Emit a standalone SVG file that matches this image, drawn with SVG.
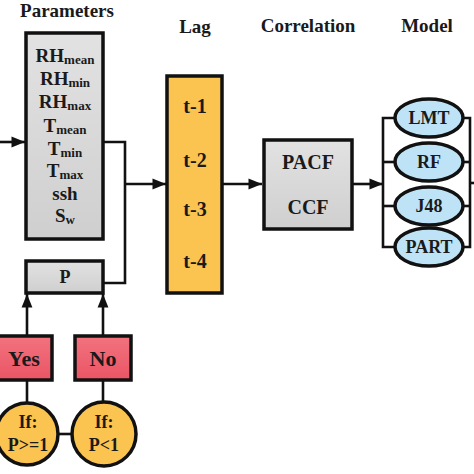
<svg xmlns="http://www.w3.org/2000/svg" width="474" height="474" viewBox="0 0 474 474">
<style>
text{font-family:"Liberation Serif","Times New Roman",serif;font-weight:bold;fill:#1a1a1a;text-anchor:middle}
.title{font-size:19px}
.lbl{font-size:20px}
.plbl{font-size:19px}
.sub{font-size:13px}
.box{stroke:#111;stroke-width:3.5}
.gray{fill:url(#gGray)}
.orange{fill:#fbc350}
.red{fill:url(#gRed)}
.blue{fill:#bfe3f6}
.ln{fill:none;stroke:#111;stroke-width:2.6}
</style>
<defs>
<linearGradient id="gGray" x1="0" y1="0" x2="0" y2="1"><stop offset="0" stop-color="#e2e2e2"/><stop offset="1" stop-color="#cfcfcf"/></linearGradient>
<linearGradient id="gRed" x1="0" y1="0" x2="0" y2="1"><stop offset="0" stop-color="#f2727e"/><stop offset="1" stop-color="#ea5565"/></linearGradient>
<marker id="ah" viewBox="0 0 10 10" refX="10" refY="5" markerWidth="5.2" markerHeight="5.2" orient="auto" markerUnits="strokeWidth"><path d="M0,1 L10,5 L0,9 z" fill="#111"/></marker>
</defs>

<g id="titles">
<text class="title" x="67" y="17">Parameters</text>
<text class="title" x="195" y="33">Lag</text>
<text class="title" x="308" y="32">Correlation</text>
<text class="title" x="427" y="32">Model</text>
</g>

<g id="connectors">
<line class="ln" x1="0" y1="142" x2="25" y2="142" marker-end="url(#ah)"/>
<polyline class="ln" points="103,142 125,142 125,283 103,283"/>
<line class="ln" x1="125" y1="184" x2="166" y2="184" marker-end="url(#ah)"/>
<line class="ln" x1="222" y1="184" x2="262" y2="184" marker-end="url(#ah)"/>
<line class="ln" x1="352" y1="184" x2="383" y2="184" marker-end="url(#ah)"/>
<polyline class="ln" points="395,118 383,118 383,247 395,247"/>
<line class="ln" x1="383" y1="162" x2="395" y2="162"/>
<line class="ln" x1="383" y1="206" x2="395" y2="206"/>
<polyline class="ln" points="462,118 470,118 470,247 462,247"/>
<line class="ln" x1="462" y1="162" x2="470" y2="162"/>
<line class="ln" x1="462" y1="206" x2="470" y2="206"/>
<line class="ln" x1="470" y1="183" x2="474" y2="183"/>
<line class="ln" x1="27" y1="336" x2="27" y2="294" marker-end="url(#ah)"/>
<line class="ln" x1="103" y1="336" x2="103" y2="294" marker-end="url(#ah)"/>
<line class="ln" x1="27" y1="380" x2="27" y2="403"/>
<line class="ln" x1="103" y1="380" x2="103" y2="403"/>
<line class="ln" x1="58" y1="434" x2="72" y2="434"/>
</g>

<g id="parameters">
<rect class="box gray" x="26" y="33" width="77" height="206"/>
<text class="plbl" x="65" y="62">RH<tspan class="sub" dy="2">mean</tspan></text>
<text class="plbl" x="65" y="85">RH<tspan class="sub" dy="2">min</tspan></text>
<text class="plbl" x="65" y="108">RH<tspan class="sub" dy="2">max</tspan></text>
<text class="plbl" x="65" y="132">T<tspan class="sub" dy="2">mean</tspan></text>
<text class="plbl" x="65" y="155">T<tspan class="sub" dy="2">min</tspan></text>
<text class="plbl" x="65" y="177">T<tspan class="sub" dy="2">max</tspan></text>
<text class="plbl" x="65" y="200">ssh</text>
<text class="plbl" x="65" y="222">S<tspan class="sub" dy="2">w</tspan></text>
</g>

<g id="lag">
<rect class="box orange" x="167" y="76" width="55" height="217"/>
<text class="lbl" x="195" y="113">t-1</text>
<text class="lbl" x="195" y="167">t-2</text>
<text class="lbl" x="195" y="216">t-3</text>
<text class="lbl" x="195" y="268">t-4</text>
</g>

<g id="correlation">
<rect class="box gray" x="264" y="140" width="88" height="89"/>
<text class="lbl" x="308" y="169">PACF</text>
<text class="lbl" x="308" y="214">CCF</text>
</g>

<g id="model-lmt">
<ellipse class="box blue" cx="429" cy="118" rx="34" ry="19"/>
<text class="lbl" x="429" y="124" style="font-size:18px">LMT</text>
</g>
<g id="model-rf">
<ellipse class="box blue" cx="429" cy="162" rx="34" ry="19"/>
<text class="lbl" x="429" y="168" style="font-size:18px">RF</text>
</g>
<g id="model-j48">
<ellipse class="box blue" cx="429" cy="206" rx="34" ry="19"/>
<text class="lbl" x="429" y="212" style="font-size:18px">J48</text>
</g>
<g id="model-part">
<ellipse class="box blue" cx="429" cy="247" rx="34" ry="19"/>
<text class="lbl" x="429" y="253" style="font-size:18px">PART</text>
</g>

<g id="p">
<rect class="box gray" x="26" y="261" width="77" height="32"/>
<text class="lbl" x="65" y="283" style="font-size:18px">P</text>
</g>

<g id="yes">
<rect class="box red" x="-2" y="336" width="54" height="44"/>
<text class="lbl" x="24" y="366" style="font-size:22px">Yes</text>
</g>
<g id="no">
<rect class="box red" x="75" y="336" width="56" height="44"/>
<text class="lbl" x="103" y="366" style="font-size:22px">No</text>
</g>

<g id="if-yes">
<circle class="box orange" cx="27" cy="434" r="31"/>
<text class="lbl" x="28" y="428" style="font-size:18px">If:</text>
<text class="lbl" x="28" y="451" style="font-size:18px">P&gt;=1</text>
</g>
<g id="if-no">
<circle class="box orange" cx="104" cy="434" r="32"/>
<text class="lbl" x="104" y="428" style="font-size:18px">If:</text>
<text class="lbl" x="104" y="451" style="font-size:18px">P&lt;1</text>
</g>
</svg>
